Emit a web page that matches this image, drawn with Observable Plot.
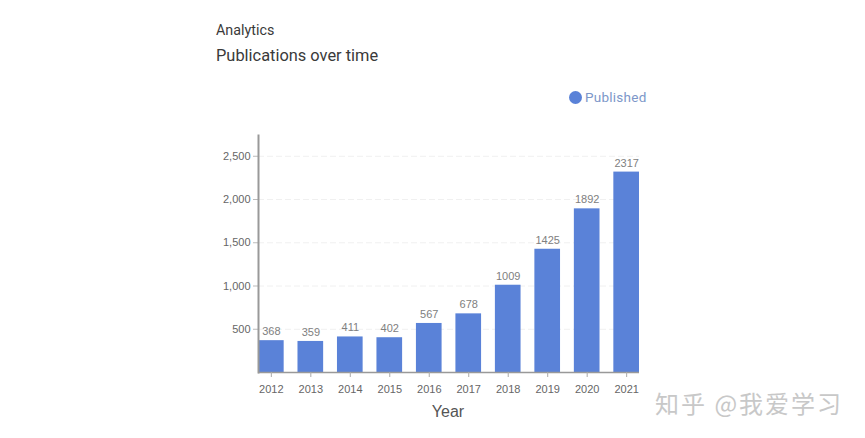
<!DOCTYPE html>
<html><head><meta charset="utf-8">
<script src="https://cdn.jsdelivr.net/npm/d3@7"></script>
<script src="https://cdn.jsdelivr.net/npm/@observablehq/plot@0.6"></script>
<style>
html,body{margin:0;padding:0;background:#fff;width:865px;height:438px;overflow:hidden;font-family:Roboto,sans-serif}
#head{position:relative;height:120px;width:865px}
.t{position:absolute;white-space:nowrap}
svg{display:block}
</style></head><body>
<div id="head">
<div class="t" style="left:216px;top:21px;font-size:14.3px;line-height:18px;color:#3a3a3a">Analytics</div>
<div class="t" style="left:216px;top:45px;font-size:16.4px;line-height:22px;color:#3a3a3a">Publications over time</div>
<div class="t" style="left:569px;top:91px;width:13px;height:13px;border-radius:50%;background:#5a82d8"></div>
<div class="t" style="left:585px;top:88px;font-size:13.5px;line-height:18px;color:#7d97c9;letter-spacing:.25px">Published</div>
</div>
<div class="t" style="left:655px;top:386px;font-family:'Noto Sans CJK SC';font-size:24px;line-height:34px;color:#c8c8c8;letter-spacing:2px">知乎 @我爱学习</div>
<script>
const years = ["2012","2013","2014","2015","2016","2017","2018","2019","2020","2021"];
const published = [368,359,411,402,567,678,1009,1425,1892,2317];
const yTicks = [500,1000,1500,2000,2500];
const rows = years.map((year,i)=>({year,value:published[i]}));
const labelFont = "'Liberation Sans',Arial,sans-serif";
const chart = Plot.plot({
  width:865,height:318,
  marginLeft:258,marginRight:226,marginTop:15,marginBottom:66,
  style:{fontFamily:labelFont,background:"transparent",overflow:"visible"},
  x:{domain:years,paddingInner:0.35,paddingOuter:0,round:false,label:null},
  y:{domain:[0,2740],label:null},
  marks:[
    Plot.ruleY(yTicks,{stroke:"#f0f0f0",strokeDasharray:"6,3"}),
    Plot.barY(rows,{x:"year",y:"value",fill:"#5a82d8"}),
    Plot.ruleY([0],{stroke:"#999",strokeWidth:1.5}),
    Plot.axisY({ticks:yTicks,tickFormat:d3.format(","),tickSize:5,tickPadding:3,fontSize:11,color:"#666",stroke:"#bbb",label:null}),
    Plot.axisX({tickSize:5,tickPadding:8,fontSize:11,color:"#666",stroke:"#aaa",label:null}),
    Plot.frame({anchor:"left",stroke:"#999",strokeWidth:2}),
    Plot.text(rows,{x:"year",y:"value",text:d=>String(d.value),dy:-9,fontSize:11,fill:"#808080"}),
    Plot.text(["Year"],{frameAnchor:"bottom",dx:-1,dy:44,fontSize:16,fill:"#555"})
  ]
});
document.body.appendChild(chart);
</script>
</body></html>
